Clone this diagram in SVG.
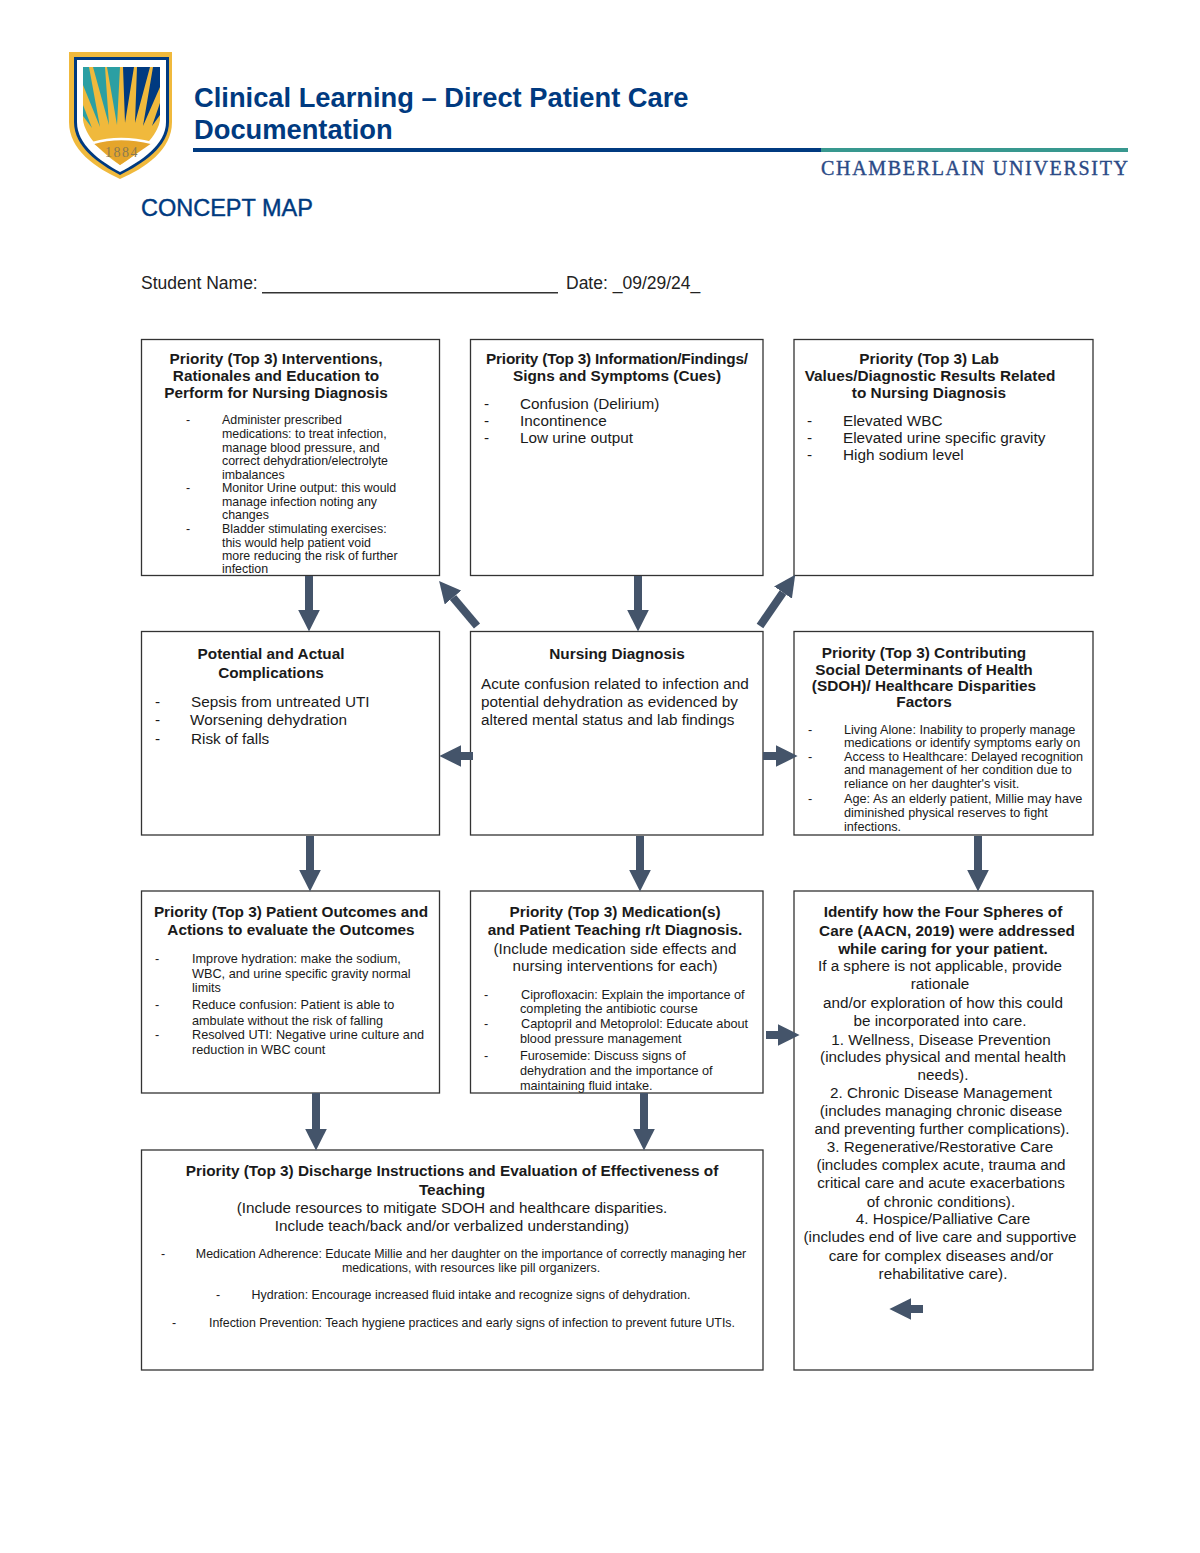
<svg xmlns="http://www.w3.org/2000/svg" width="1200" height="1553" viewBox="0 0 1200 1553">
<style>
text{font-family:"Liberation Sans",Arial,sans-serif;fill:#1a1a1a}
.box{fill:#fff;stroke:#333;stroke-width:1.3}
.b{font-weight:700;font-size:15.350px;text-anchor:middle}
.r{font-size:15.300px}
.m{font-size:15.250px;text-anchor:middle}
.s{font-size:12.400px}
.sm{font-size:12.400px;text-anchor:middle}
#sdoh .s,#outcomes .s,#medications .s{font-size:12.700px}
.h{font-weight:700;font-size:27.300px;fill:#003a80}
.c{stroke:#44546a;stroke-width:8;fill:none;marker-end:url(#ah)}
</style>
<defs><marker id="ah" markerUnits="strokeWidth" markerWidth="2.700" markerHeight="2.700" refX="0" refY="1.350" orient="auto"><path d="M0,0L2.700,1.350L0,2.700z" fill="#44546a"/></marker></defs>
<rect width="1200" height="1553" fill="#fff"/>
<g id="logo">
<path d="M69,52H172V122C172,150 145,168 120,179C96,168 69,150 69,122z" fill="#f0b93c"/>
<path d="M74,57H169V122C169,147 142,164 120,175C99,164 74,147 74,122z" fill="#003a80"/>
<path d="M77,60H166V122C166,145 141,161 120,172C100,161 77,145 77,122z" fill="#fff"/>
<path d="M83,67H160V120C158,135 141,152 120,165C100,152 85,135 83,120z" fill="#f0b93c"/>
<path d="M83,67H89L100,127L83,85zM93,67H105L109,125zM107,67H120L117,125z" fill="#2b9fa3"/>
<path d="M83,105L92,128L83,116z" fill="#2b9fa3"/>
<path d="M123,67H134L125,123zM137,67H150L135,123zM153,67H160V87L143,126z" fill="#003a80"/>
<path d="M160,103V115L152,126z" fill="#003a80"/>
<path d="M93,143Q120,135 152,143L120,165z" fill="#e5a52b"/>
<path d="M93,143Q120,135 152,143" fill="none" stroke="#fff" stroke-width="2.500"/>
<text x="122" y="157" text-anchor="middle" style="font-family:'Liberation Serif',serif;font-size:14px;fill:#8a7a50" letter-spacing="1.500">1884</text>
</g>
<g id="header">
<text class="h" x="194" y="107">Clinical Learning – Direct Patient Care</text>
<text class="h" x="194" y="139">Documentation</text>
<rect x="193" y="148" width="628" height="4" fill="#003a80"/>
<rect x="821" y="148" width="307" height="4" fill="#38988f"/>
<text x="821" y="175" textLength="307" style="font-family:'Liberation Serif',serif;font-size:20px;fill:#2b4a86;stroke:#2b4a86;stroke-width:.4">CHAMBERLAIN UNIVERSITY</text>
<text x="141" y="216" style="font-size:23.500px;fill:#003a80;stroke:#003a80;stroke-width:.4">CONCEPT MAP</text>
<text x="141" y="289" style="font-size:17.500px;fill:#222">Student Name:</text>
<rect x="262" y="292" width="296" height="1.500" fill="#333"/>
<text x="566" y="289" style="font-size:17.500px;fill:#222">Date: _09/29/24_</text>
</g>
<g id="interventions">
<rect class="box" x="141.500" y="339.500" width="298" height="236"/>
<text class="b" x="276" y="364">Priority (Top 3) Interventions,</text>
<text class="b" x="276" y="381">Rationales and Education to</text>
<text class="b" x="276" y="398">Perform for Nursing Diagnosis</text>
<text class="s" x="186" y="424">-</text><text class="s" x="222" y="424">Administer prescribed</text>
<text class="s" x="222" y="438">medications: to treat infection,</text>
<text class="s" x="222" y="452">manage blood pressure, and</text>
<text class="s" x="222" y="465">correct dehydration/electrolyte</text>
<text class="s" x="222" y="479">imbalances</text>
<text class="s" x="186" y="492">-</text><text class="s" x="222" y="492">Monitor Urine output: this would</text>
<text class="s" x="222" y="506">manage infection noting any</text>
<text class="s" x="222" y="519">changes</text>
<text class="s" x="186" y="533">-</text><text class="s" x="222" y="533">Bladder stimulating exercises:</text>
<text class="s" x="222" y="547">this would help patient void</text>
<text class="s" x="222" y="560">more reducing the risk of further</text>
<text class="s" x="222" y="573">infection</text>
</g>
<g id="cues">
<rect class="box" x="470.500" y="339.500" width="292.500" height="236"/>
<text class="b" x="617" y="364" textLength="262">Priority (Top 3) Information/Findings/</text>
<text class="b" x="617" y="381">Signs and Symptoms (Cues)</text>
<text class="r" x="484" y="409">-</text><text class="r" x="520" y="409">Confusion (Delirium)</text>
<text class="r" x="484" y="426">-</text><text class="r" x="520" y="426">Incontinence</text>
<text class="r" x="484" y="443">-</text><text class="r" x="520" y="443">Low urine output</text>
</g>
<g id="labs">
<rect class="box" x="794" y="339.500" width="299" height="236"/>
<text class="b" x="929" y="364">Priority (Top 3) Lab</text>
<text class="b" x="930" y="381">Values/Diagnostic Results Related</text>
<text class="b" x="929" y="398">to Nursing Diagnosis</text>
<text class="r" x="807" y="426">-</text><text class="r" x="843" y="426">Elevated WBC</text>
<text class="r" x="807" y="443">-</text><text class="r" x="843" y="443">Elevated urine specific gravity</text>
<text class="r" x="807" y="460">-</text><text class="r" x="843" y="460">High sodium level</text>
</g>
<g id="complications">
<rect class="box" x="141.500" y="631.500" width="298" height="203.500"/>
<text class="b" x="271" y="659">Potential and Actual</text>
<text class="b" x="271" y="678">Complications</text>
<text class="r" x="155" y="707">-</text><text class="r" x="191" y="707">Sepsis from untreated UTI</text>
<text class="r" x="155" y="725">-</text><text class="r" x="190" y="725">Worsening dehydration</text>
<text class="r" x="155" y="744">-</text><text class="r" x="191" y="744">Risk of falls</text>
</g>
<g id="diagnosis">
<rect class="box" x="470.500" y="631.500" width="292.500" height="203.500"/>
<text class="b" x="617" y="659">Nursing Diagnosis</text>
<text class="r" x="481" y="689">Acute confusion related to infection and</text>
<text class="r" x="481" y="707">potential dehydration as evidenced by</text>
<text class="r" x="481" y="725">altered mental status and lab findings</text>
</g>
<g id="sdoh">
<rect class="box" x="794" y="631.500" width="299" height="203.500"/>
<text class="b" x="924" y="658">Priority (Top 3) Contributing</text>
<text class="b" x="924" y="675">Social Determinants of Health</text>
<text class="b" x="924" y="691">(SDOH)/ Healthcare Disparities</text>
<text class="b" x="924" y="707">Factors</text>
<text class="s" x="808" y="734">-</text><text class="s" x="844" y="734">Living Alone: Inability to properly manage</text>
<text class="s" x="844" y="747">medications or identify symptoms early on</text>
<text class="s" x="808" y="761">-</text><text class="s" x="844" y="761">Access to Healthcare: Delayed recognition</text>
<text class="s" x="844" y="774">and management of her condition due to</text>
<text class="s" x="844" y="788">reliance on her daughter's visit.</text>
<text class="s" x="808" y="803">-</text><text class="s" x="844" y="803">Age: As an elderly patient, Millie may have</text>
<text class="s" x="844" y="817">diminished physical reserves to fight</text>
<text class="s" x="844" y="831">infections.</text>
</g>
<g id="outcomes">
<rect class="box" x="141.500" y="891" width="298" height="202"/>
<text class="b" x="291" y="917">Priority (Top 3) Patient Outcomes and</text>
<text class="b" x="291" y="935">Actions to evaluate the Outcomes</text>
<text class="s" x="155" y="963">-</text><text class="s" x="192" y="963">Improve hydration: make the sodium,</text>
<text class="s" x="192" y="978">WBC, and urine specific gravity normal</text>
<text class="s" x="192" y="992">limits</text>
<text class="s" x="155" y="1009">-</text><text class="s" x="192" y="1009">Reduce confusion: Patient is able to</text>
<text class="s" x="192" y="1025">ambulate without the risk of falling</text>
<text class="s" x="155" y="1039">-</text><text class="s" x="192" y="1039">Resolved UTI: Negative urine culture and</text>
<text class="s" x="192" y="1054">reduction in WBC count</text>
</g>
<g id="medications">
<rect class="box" x="470.500" y="891" width="292.500" height="202"/>
<text class="b" x="615" y="917">Priority (Top 3) Medication(s)</text>
<text class="b" x="615" y="935">and Patient Teaching r/t Diagnosis.</text>
<text class="m" x="615" y="954">(Include medication side effects and</text>
<text class="m" x="615" y="971">nursing interventions for each)</text>
<text class="s" x="484" y="999">-</text><text class="s" x="521" y="999">Ciprofloxacin: Explain the importance of</text>
<text class="s" x="520" y="1013">completing the antibiotic course</text>
<text class="s" x="484" y="1028">-</text><text class="s" x="521" y="1028">Captopril and Metoprolol: Educate about</text>
<text class="s" x="520" y="1043">blood pressure management</text>
<text class="s" x="484" y="1060">-</text><text class="s" x="520" y="1060">Furosemide: Discuss signs of</text>
<text class="s" x="520" y="1075">dehydration and the importance of</text>
<text class="s" x="520" y="1090">maintaining fluid intake.</text>
</g>
<g id="spheres">
<rect class="box" x="794" y="891" width="299" height="479"/>
<text class="b" x="943" y="917">Identify how the Four Spheres of</text>
<text class="b" x="947" y="936">Care (AACN, 2019) were addressed</text>
<text class="b" x="943" y="954">while caring for your patient.</text>
<text class="m" x="940" y="971">If a sphere is not applicable, provide</text>
<text class="m" x="940" y="989">rationale</text>
<text class="m" x="943" y="1008">and/or exploration of how this could</text>
<text class="m" x="940" y="1026">be incorporated into care.</text>
<text class="m" x="941" y="1045">1. Wellness, Disease Prevention</text>
<text class="m" x="943" y="1062">(includes physical and mental health</text>
<text class="m" x="943" y="1080">needs).</text>
<text class="m" x="941" y="1098">2. Chronic Disease Management</text>
<text class="m" x="941" y="1116">(includes managing chronic disease</text>
<text class="m" x="942" y="1134">and preventing further complications).</text>
<text class="m" x="940" y="1152">3. Regenerative/Restorative Care</text>
<text class="m" x="941" y="1170">(includes complex acute, trauma and</text>
<text class="m" x="941" y="1188">critical care and acute exacerbations</text>
<text class="m" x="941" y="1207">of chronic conditions).</text>
<text class="m" x="943" y="1224">4. Hospice/Palliative Care</text>
<text class="m" x="940" y="1242">(includes end of live care and supportive</text>
<text class="m" x="941" y="1261">care for complex diseases and/or</text>
<text class="m" x="943" y="1279">rehabilitative care).</text>
</g>
<g id="discharge">
<rect class="box" x="141.500" y="1150" width="621.500" height="220"/>
<text class="b" x="452" y="1176">Priority (Top 3) Discharge Instructions and Evaluation of Effectiveness of</text>
<text class="b" x="452" y="1195">Teaching</text>
<text class="m" x="452" y="1213">(Include resources to mitigate SDOH and healthcare disparities.</text>
<text class="m" x="452" y="1231">Include teach/back and/or verbalized understanding)</text>
<text class="s" x="161" y="1258">-</text><text class="sm" x="471" y="1258">Medication Adherence: Educate Millie and her daughter on the importance of correctly managing her</text>
<text class="sm" x="471" y="1272">medications, with resources like pill organizers.</text>
<text class="s" x="216" y="1299">-</text><text class="sm" x="471" y="1299">Hydration: Encourage increased fluid intake and recognize signs of dehydration.</text>
<text class="s" x="172" y="1327">-</text><text class="sm" x="472" y="1327">Infection Prevention: Teach hygiene practices and early signs of infection to prevent future UTIs.</text>
</g>
<g id="connectors">
<path class="c" d="M309,576V610"/>
<path class="c" d="M477,626L453,597.500"/>
<path class="c" d="M638,576V610"/>
<path class="c" d="M760,626L783,592.500"/>
<path class="c" d="M473,756H461"/>
<path class="c" d="M763,756H776"/>
<path class="c" d="M310,836V870"/>
<path class="c" d="M640,836V870"/>
<path class="c" d="M978,836V870"/>
<path class="c" d="M766,1035H778"/>
<path class="c" d="M316,1093V1129"/>
<path class="c" d="M644,1093V1129"/>
<path class="c" d="M923,1309H911"/>
</g>
</svg>
